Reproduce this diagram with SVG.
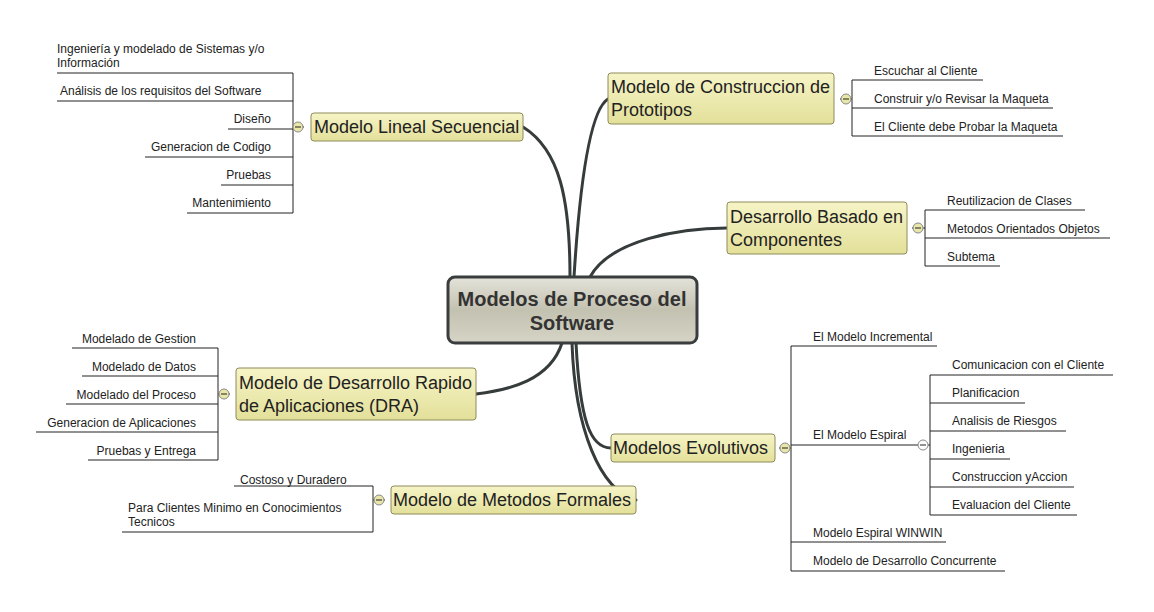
<svg xmlns="http://www.w3.org/2000/svg" width="1154" height="612" viewBox="0 0 1154 612">
<defs>
<linearGradient id="gc" x1="0" y1="0" x2="0" y2="1"><stop offset="0" stop-color="#e4e3da"/><stop offset="0.5" stop-color="#c3c1b0"/><stop offset="1" stop-color="#d6d4c6"/></linearGradient>
<linearGradient id="gy" x1="0" y1="0" x2="0" y2="1"><stop offset="0" stop-color="#f6f4c6"/><stop offset="1" stop-color="#e3e09a"/></linearGradient>
</defs>
<style>
.n{fill:url(#gy);stroke:#8e8c5a;stroke-width:1}
.t{font-family:"Liberation Sans",Arial,sans-serif;font-size:18px;fill:#222}
.s{font-family:"Liberation Sans",Arial,sans-serif;font-size:12px;fill:#222}
.l{stroke:#222;stroke-width:1;fill:none}
.c{stroke:#363b3b;stroke-width:3;fill:none;stroke-linecap:round}
.k{fill:#e8e6a8;stroke:#888;stroke-width:1}
.k2{fill:#fff;stroke:#888;stroke-width:1}
</style>
<rect width="1154" height="612" fill="#fff"/>
<g id="connectors">
<path class="c" d="M570,277 C570,200 560,150 523,127"/>
<path class="c" d="M574,277 C580,180 590,110 608,99"/>
<path class="c" d="M590,277 C610,240 680,228 727,228"/>
<path class="c" d="M562,343 C550,380 510,390 476,394"/>
<path class="c" d="M576,343 C580,420 590,448 611,448"/>
<path class="c" d="M572,343 C575,430 600,490 636,500"/>
<g class="l">
<path d="M57,73H293V213M57,101H293M228,129H293M145,157H293M221,185H293M187,213H293M293,127H304"/>
<path d="M852,80V136M852,80H983M852,108H1053M852,136H1063M840,99H852"/>
<path d="M925,210V266M925,210H1085M925,238H1110M925,266H1000M912,228H925"/>
<path d="M218,348V460M72,348H218M82,376H218M66,404H218M36,432H218M88,460H218M218,394H230"/>
<path d="M791,346V571M791,346H937M791,445H918M791,542H946M791,571H1005M779,448H791"/>
<path d="M930,375V515M930,375H1113M930,403H1025M930,431H1066M930,459H1010M930,487H1074M930,515H1077M928,445H930"/>
<path d="M373,486V532M234,486H373M122,532H373M373,500H385"/>
</g>
</g>
<g id="center"><rect x="448" y="277" width="249" height="66" rx="7" fill="url(#gc)" stroke="#3a3d3d" stroke-width="3"/>
<text x="572" y="306" text-anchor="middle" font-family="Liberation Sans,Arial,sans-serif" font-size="20" font-weight="bold" fill="#333">Modelos de Proceso del</text>
<text x="572" y="330" text-anchor="middle" font-family="Liberation Sans,Arial,sans-serif" font-size="20" font-weight="bold" fill="#333">Software</text></g>
<g id="lineal"><rect class="n" x="311" y="113" width="212" height="28" rx="3"/><text class="t" x="314" y="133">Modelo Lineal Secuencial</text><circle class="k" cx="298" cy="127" r="5"/><path class="l" d="M295,127H301"/>
<text class="s" x="57" y="53">Ingeniería y modelado de Sistemas y/o</text><text class="s" x="57" y="67">Información</text>
<text class="s" x="60" y="95">Análisis de los requisitos del Software</text>
<text class="s" x="271" y="123" text-anchor="end">Diseño</text>
<text class="s" x="271" y="151" text-anchor="end">Generacion de Codigo</text>
<text class="s" x="271" y="179" text-anchor="end">Pruebas</text>
<text class="s" x="271" y="207" text-anchor="end">Mantenimiento</text></g>
<g id="prototipos"><rect class="n" x="608" y="73" width="226" height="51" rx="3"/><text class="t" x="611" y="93">Modelo de Construccion de</text><text class="t" x="611" y="116">Prototipos</text><circle class="k" cx="846" cy="99" r="5"/><path class="l" d="M843,99H849"/>
<text class="s" x="874" y="75">Escuchar al Cliente</text><text class="s" x="874" y="103">Construir y/o Revisar la Maqueta</text><text class="s" x="874" y="131">El Cliente debe Probar la Maqueta</text></g>
<g id="componentes"><rect class="n" x="727" y="202" width="180" height="52" rx="3"/><text class="t" x="730" y="223">Desarrollo Basado en</text><text class="t" x="730" y="246">Componentes</text><circle class="k" cx="918" cy="228" r="5"/><path class="l" d="M915,228H921"/>
<text class="s" x="947" y="205">Reutilizacion de Clases</text><text class="s" x="947" y="233">Metodos Orientados  Objetos</text><text class="s" x="947" y="261">Subtema</text></g>
<g id="dra"><rect class="n" x="236" y="368" width="240" height="52" rx="3"/><text class="t" x="239" y="389">Modelo de Desarrollo Rapido</text><text class="t" x="239" y="412">de Aplicaciones (DRA)</text><circle class="k" cx="224" cy="394" r="5"/><path class="l" d="M221,394H227"/>
<text class="s" x="196" y="343" text-anchor="end">Modelado de Gestion</text><text class="s" x="196" y="371" text-anchor="end">Modelado de Datos</text><text class="s" x="196" y="399" text-anchor="end">Modelado del Proceso</text><text class="s" x="196" y="427" text-anchor="end">Generacion de Aplicaciones</text><text class="s" x="196" y="455" text-anchor="end">Pruebas  y Entrega</text></g>
<g id="evolutivos"><rect class="n" x="611" y="434" width="164" height="28" rx="3"/><text class="t" x="613" y="454">Modelos Evolutivos</text><circle class="k" cx="785" cy="448" r="5"/><path class="l" d="M782,448H788"/>
<text class="s" x="813" y="341">El Modelo Incremental</text><text class="s" x="813" y="439">El Modelo Espiral</text><text class="s" x="813" y="537">Modelo Espiral WINWIN</text><text class="s" x="813" y="565">Modelo de Desarrollo Concurrente</text>
<circle class="k2" cx="923" cy="445" r="5"/><path class="l" d="M920,445H926"/>
<text class="s" x="952" y="369">Comunicacion con el Cliente</text><text class="s" x="952" y="397">Planificacion</text><text class="s" x="952" y="425">Analisis de Riesgos</text><text class="s" x="952" y="453">Ingenieria</text><text class="s" x="952" y="481">Construccion yAccion</text><text class="s" x="952" y="509">Evaluacion del Cliente</text></g>
<g id="formales"><rect class="n" x="391" y="486" width="245" height="28" rx="3"/><text class="t" x="393" y="506">Modelo de Metodos Formales</text><circle class="k" cx="379" cy="500" r="5"/><path class="l" d="M376,500H382"/>
<text class="s" x="240" y="484">Costoso y Duradero</text><text class="s" x="128" y="512">Para Clientes Minimo en Conocimientos</text><text class="s" x="128" y="526">Tecnicos</text></g>
</svg>
